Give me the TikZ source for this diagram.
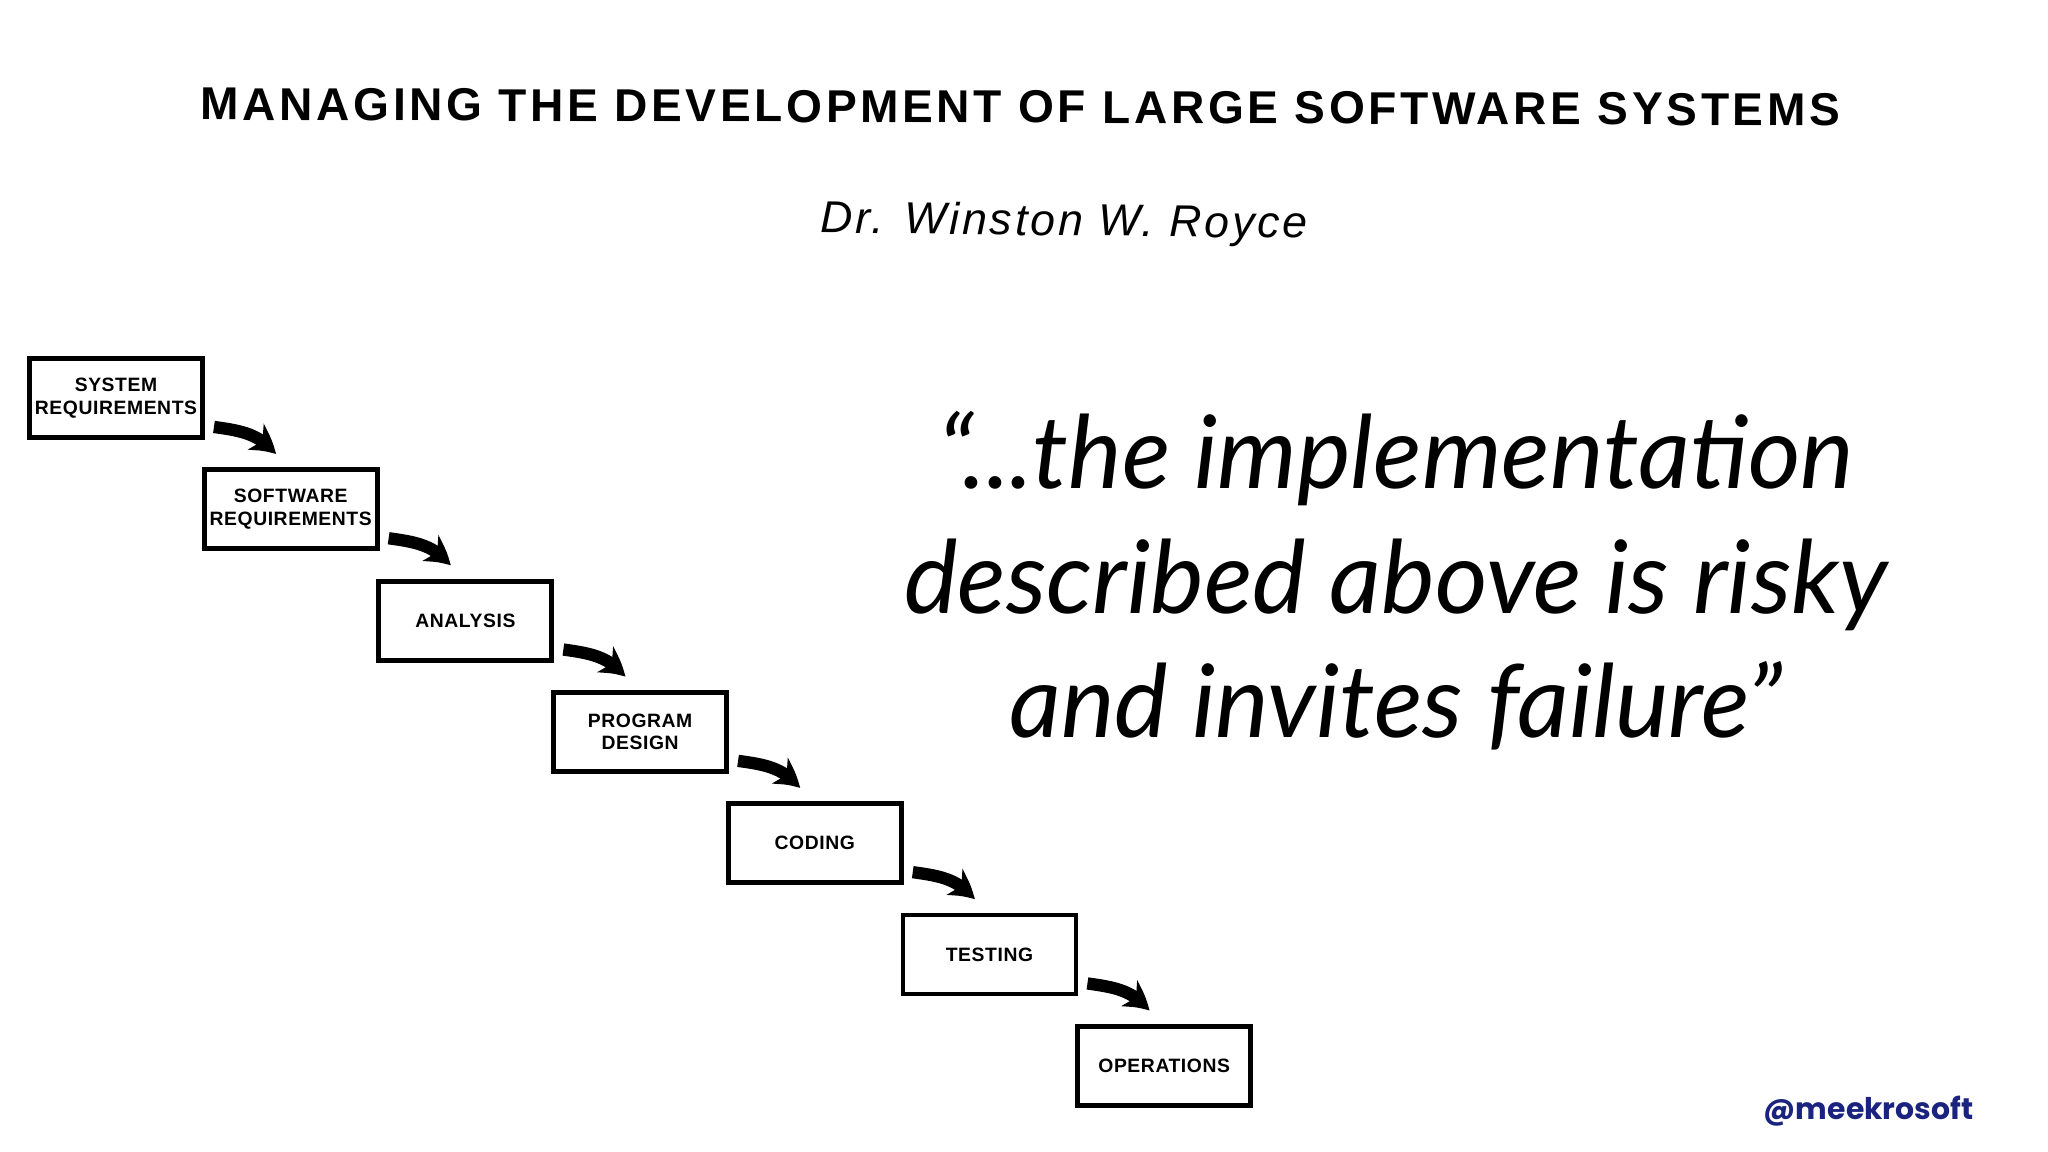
\documentclass[tikz,border=0pt]{standalone}
\usepackage{fontspec}
\setmainfont{Liberation Sans}
\newfontfamily\quotefont{Lato}
\newfontfamily\handlefont{Poppins}
\usetikzlibrary{arrows.meta,bending,trees}
\definecolor{handleblue}{RGB}{26,35,126}

\begin{document}
\begin{tikzpicture}[
		stage/.style={draw, line width=1.4pt, minimum width=1.73cm, minimum height=0.79cm,
				inner sep=0pt, align=center,
				font=\fontsize{5.5}{6.5}\selectfont\bfseries\addfontfeature{LetterSpace=3}},
		caption/.style={inner sep=0pt, anchor=base west},
		grow via three points={one child at (1.747,-1.113) and two children at (0,0) and (0,0)},
		edge from parent/.style={draw, line width=3.5pt,
				-{Stealth[length=7.5pt,width=8.5pt,inset=2.2pt,bend]}},
		edge from parent path={([shift={(0.09,0.13)}]\tikzparentnode.south east)
				to[out=-8,in=128] ([shift={(0.74,0.13)}]\tikzchildnode.north west)}
	]
	\useasboundingbox (0,0) rectangle (20.48,11.52);

	\node[caption, rotate=-0.2,
		font=\fontsize{13.1}{15}\selectfont\bfseries\addfontfeature{LetterSpace=8}]
		(title) at (2.00,10.32) {MANAGING THE DEVELOPMENT OF LARGE SOFTWARE SYSTEMS};
	\node[caption, rotate=-0.6,
		font=\fontsize{12.7}{15}\selectfont\itshape\addfontfeature{LetterSpace=6.5}]
		(author) at (8.20,9.19) {Dr. Winston W. Royce};

	% the waterfall
	\node[stage] (sysreq) at (1.16,7.54) {SYSTEM\\REQUIREMENTS}
	child {
			node[stage] (swreq) {SOFTWARE\\REQUIREMENTS}
			child {
					node[stage] (analysis) {ANALYSIS}
					child {
							node[stage] (design) {PROGRAM\\DESIGN}
							child {
									node[stage] (coding) {CODING}
									child {
											node[stage] (testing) {TESTING}
											child {node[stage] (ops) {OPERATIONS}}
										}
								}
						}
				}
		};

	% base of a multi-line node is its last line
	\node[anchor=base, inner sep=0pt, align=center,
		font=\quotefont\itshape\fontsize{28.8}{35.5}\selectfont]
		(quote) at (13.96,4.14) {“...the implementation\\described above is risky\\and invites failure”};

	\node[caption, text=handleblue, font=\handlefont\bfseries\fontsize{8.5}{10}\selectfont]
		(handle) at (17.63,0.32) {@meekrosoft};
\end{tikzpicture}
\end{document}
